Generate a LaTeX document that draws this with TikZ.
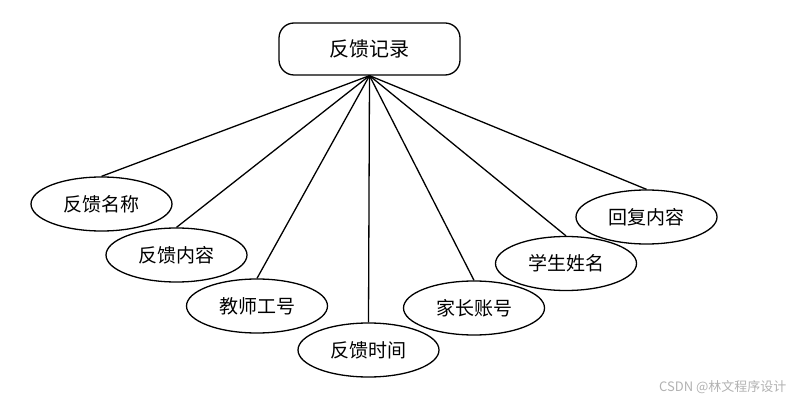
\documentclass[tikz,border=0pt]{standalone}
\usepackage{fontspec}
\newfontfamily\cjk{Noto Sans CJK SC}
\usetikzlibrary{shapes.geometric,positioning}

\begin{document}
\begin{tikzpicture}[x=1pt, y=-1pt,
		entity/.style={draw, line width=1.3pt, rounded corners=15pt, minimum width=181pt, minimum height=52pt, inner sep=0pt, font=\cjk\fontsize{20}{22}\selectfont},
		attr/.style={draw, line width=1.3pt, ellipse, minimum width=141pt, minimum height=54pt, inner sep=0pt, font=\cjk\fontsize{19}{21}\selectfont},
		link/.style={line width=1.3pt}]
		% 1. Fix the size of the page (pixel grid of the reference)
		\useasboundingbox (0,0) rectangle (791,403);

		% 2. The entity box at the top
		\node[entity] (rec) at (369.5,49) {反馈记录};

		% 3. The attribute ellipses
		\node[attr] (name)    at (101.5,204) {反馈名称};
		\node[attr] (content) at (176.5,255) {反馈内容};
		\node[attr] (teacher) at (257,306)   {教师工号};
		\node[attr] (time)    at (368.5,350) {反馈时间};
		\node[attr] (parent)  at (474,308)   {家长账号};
		\node[attr] (student) at (566,263.5) {学生姓名};
		\node[attr] (reply)   at (646.5,217) {回复内容};

		% 4. Lines from the bottom of the box to the top of each ellipse
		\foreach \a in {name,content,teacher,time,parent,student,reply}
			\draw[link] (rec.south) -- (\a.north);

		% 5. Watermark
		\node[gray!60, font=\cjk\fontsize{13}{14}\selectfont, anchor=east] (mark) at (790,387) {CSDN @林文程序设计};
	\end{tikzpicture}
\end{document}
